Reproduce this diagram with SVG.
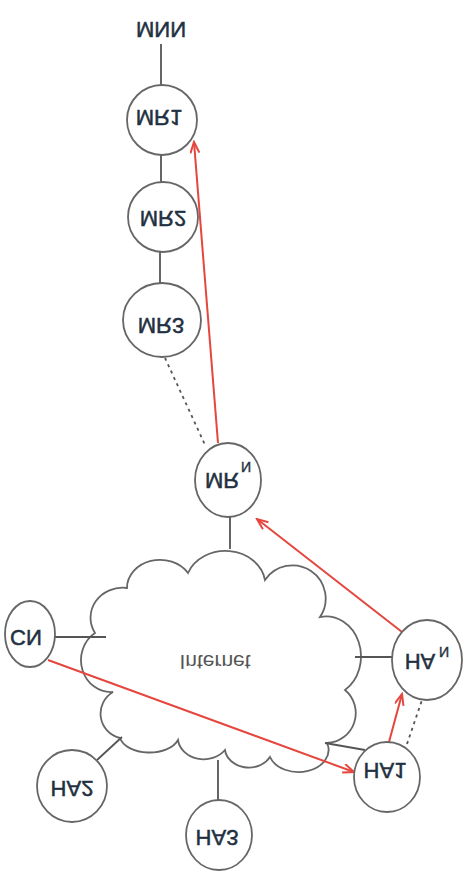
<svg xmlns="http://www.w3.org/2000/svg" width="474" height="888" viewBox="0 0 474 888">
<style>
.node{fill:#fff;stroke:#666;stroke-width:1.8}
.lbl{font-family:"Liberation Sans",Arial,sans-serif;font-size:22px;fill:#22303f;stroke:#22303f;stroke-width:0.5;text-anchor:middle}
.sup{font-family:"Liberation Sans",Arial,sans-serif;font-size:14px;fill:#22303f;stroke:#22303f;stroke-width:0.4;text-anchor:middle}
.inet{font-family:"Liberation Sans",Arial,sans-serif;font-size:21px;fill:#555;text-anchor:middle}
.ln{stroke:#555;stroke-width:1.8;fill:none}
.dot{stroke:#555;stroke-width:1.8;fill:none;stroke-dasharray:3 4}
.red{stroke:#e5463d;stroke-width:2;fill:none;marker-end:url(#ah)}
.cloud{fill:#fff;stroke:#666;stroke-width:1.8}
</style>
<defs>
<marker id="ah" markerUnits="userSpaceOnUse" markerWidth="14" markerHeight="12" refX="12" refY="5" orient="auto">
<path d="M1,0.5 L12,5 L1,9.5" fill="none" stroke="#e5463d" stroke-width="2"/>
</marker>
</defs>
<rect width="474" height="888" fill="#fff"/>

<g id="internet">
<path class="cloud" d="M188,573 A40,34 0 0 1 265,580 A32,32 0 0 1 320,617 A35,40 0 0 1 345,690 A30,30 0 0 1 327,743 A30,22 0 0 1 270,757 A24,20 0 0 1 225,750 A26,22 0 0 1 178,740 A30,18 0 0 1 120,738 A25,25 0 0 1 113,692 A30,32 0 0 1 95,633 A32,30 0 0 1 127,588 A33,28 0 0 1 188,573 Z"/>
<text class="inet" transform="translate(215,662) scale(1,-1)" y="7.5">Internet</text>
</g>

<g id="connectors">
<line class="ln" x1="161" y1="44" x2="161" y2="85"/>
<line class="ln" x1="161" y1="155" x2="161" y2="182"/>
<line class="ln" x1="160" y1="252" x2="160" y2="283"/>
<line class="dot" x1="165" y1="358" x2="206" y2="447"/>
<line class="ln" x1="230" y1="517" x2="230" y2="549"/>
<line class="ln" x1="55" y1="637" x2="106" y2="637"/>
<line class="ln" x1="355" y1="657" x2="392" y2="657" stroke-width="2.5"/>
<line class="ln" x1="97" y1="760" x2="122" y2="737"/>
<line class="ln" x1="218" y1="760" x2="218" y2="801"/>
<line class="ln" x1="365" y1="750" x2="325" y2="743"/>
<line class="dot" x1="407" y1="744" x2="422" y2="700"/>
<line class="red" x1="218" y1="443" x2="194" y2="142"/>
<line class="red" x1="402" y1="632" x2="257" y2="519"/>
<line class="red" x1="48" y1="660" x2="354" y2="772"/>
<line class="red" x1="389" y1="742" x2="402" y2="694"/>
</g>

<g id="MNN">
<text class="lbl" transform="translate(161,30) scale(1,-1)" y="8">MNN</text>
</g>
<g id="MR1">
<ellipse class="node" cx="162" cy="120" rx="35" ry="35"/>
<text class="lbl" transform="translate(159,118) scale(1,-1)" y="8">MR1</text>
</g>
<g id="MR2">
<ellipse class="node" cx="163" cy="217" rx="35" ry="35"/>
<text class="lbl" transform="translate(163,219) scale(1,-1)" y="8">MR2</text>
</g>
<g id="MR3">
<ellipse class="node" cx="162" cy="320" rx="39" ry="37"/>
<text class="lbl" transform="translate(161,326) scale(1,-1)" y="8">MR3</text>
</g>
<g id="MRN">
<ellipse class="node" cx="228" cy="480" rx="33" ry="37"/>
<text class="lbl" transform="translate(222,481) scale(1,-1)" y="8">MR</text>
<text class="sup" transform="translate(246,467) scale(1,-1)" y="5">N</text>
</g>
<g id="CN">
<ellipse class="node" cx="30" cy="634" rx="25" ry="33"/>
<text class="lbl" transform="translate(26,638) scale(1,-1)" y="8">CN</text>
</g>
<g id="HAN">
<ellipse class="node" cx="427" cy="660" rx="35" ry="40"/>
<text class="lbl" transform="translate(420,662) scale(1,-1)" y="8">HA</text>
<text class="sup" transform="translate(444,652) scale(1,-1)" y="5">N</text>
</g>
<g id="HA1">
<ellipse class="node" cx="387" cy="777" rx="33" ry="35"/>
<text class="lbl" transform="translate(385,771) scale(1,-1)" y="8">HA1</text>
</g>
<g id="HA2">
<ellipse class="node" cx="72" cy="786" rx="35" ry="36"/>
<text class="lbl" transform="translate(72,789) scale(1,-1)" y="8">HA2</text>
</g>
<g id="HA3">
<ellipse class="node" cx="219" cy="835" rx="33" ry="35"/>
<text class="lbl" transform="translate(217,838) scale(1,-1)" y="8">HA3</text>
</g>
</svg>
